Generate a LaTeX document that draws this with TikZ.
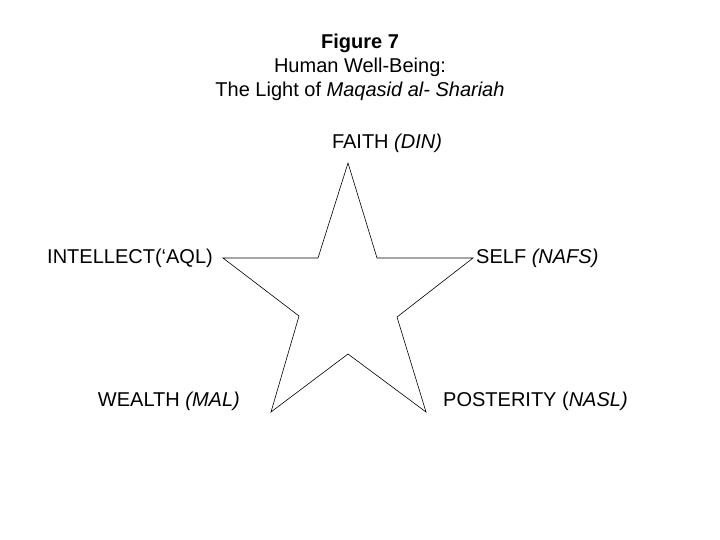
\documentclass[tikz,border=0pt]{standalone}
\usepackage{fontspec}
\setmainfont{Liberation Sans}
\usetikzlibrary{positioning}

\begin{document}
\begin{tikzpicture}
		[x=1pt, y=-1pt,
		label/.style ={inner sep=0pt, font=\fontsize{20}{24}\selectfont},
		heading/.style ={inner sep=0pt, align=center, font=\fontsize{20}{24}\selectfont},
		star/.style ={draw=black, line width=0.6pt, line join=miter}]
		\useasboundingbox (0,0) rectangle (720,540);
		\draw (360,67) node[heading] (T) {\textbf{Figure 7}\\Human Well-Being:\\The Light of \textit{Maqasid al- Shariah}};
		% star points
		\coordinate (top) at (348,163);
		\coordinate (ul) at (318,258);
		\coordinate (left) at (223,258);
		\coordinate (ll) at (299,316);
		\coordinate (bl) at (271,412);
		\coordinate (bot) at (348,354);
		\coordinate (br) at (426,412);
		\coordinate (lr) at (397,317);
		\coordinate (right) at (473,258);
		\coordinate (ur) at (377,258);
		\path[star] (top) -- (ul) -- (left) -- (ll) -- (bl) -- (bot) -- (br) -- (lr) -- (right) -- (ur) -- cycle;
		\draw (387,143) node[label] (F) {FAITH \textit{(DIN)}};
		\draw (213,258) node[label, anchor=east] (I) {INTELLECT(‘AQL)};
		\draw (476,258) node[label, anchor=west] (S) {SELF \textit{(NAFS)}};
		\draw (240,401) node[label, anchor=east] (W) {WEALTH \textit{(MAL)}};
		\draw (443,401) node[label, anchor=west] (P) {POSTERITY (\textit{NASL)}};

	\end{tikzpicture}
\end{document}
